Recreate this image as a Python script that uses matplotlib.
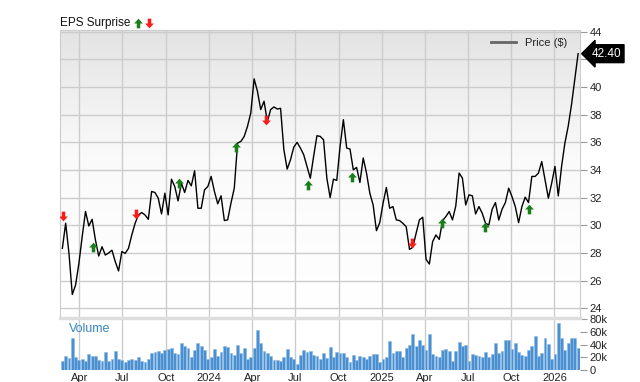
import numpy as np
import pandas as pd
import matplotlib
matplotlib.use('Agg')
import matplotlib.pyplot as plt
import matplotlib.dates as mdates
from matplotlib.path import Path
from matplotlib.lines import Line2D
from matplotlib.colors import LinearSegmentedColormap
from matplotlib.ticker import FuncFormatter

plt.rcParams['font.family'] = ['Liberation Sans', 'DejaVu Sans']

# weekly closing prices ($), Feb 2023 -> Feb 2026
prices = [
    28.33, 30.15, 27.97, 25.0, 25.68, 27.25, 29.18, 31.0, 29.95, 30.43,
    28.94, 27.78, 28.45, 27.85, 28.0, 28.2, 27.37, 26.7, 28.1, 27.97,
    28.33, 29.3, 30.14, 30.75, 30.92, 30.75, 30.43, 32.44, 32.37, 31.96,
    30.82, 32.32, 30.75,
    33.33, 32.8, 31.76, 33.04, 32.37, 33.24, 32.85, 33.94, 31.23, 31.23,
    32.56, 32.8, 33.53, 32.44, 31.55, 32.13, 30.34, 30.39, 31.6, 32.68,
    35.94, 36.06, 36.42, 37.15, 38.12, 40.58, 39.69, 38.36, 38.96, 37.5,
    38.36, 38.55,
    38.4, 38.45, 35.46, 34.06, 34.73, 35.65, 35.99, 35.58, 35.1, 34.25,
    33.4, 34.98, 36.47, 36.42, 36.18, 33.4, 32.0, 33.33, 33.24, 35.7,
    37.63, 35.58, 35.51, 34.01, 34.18, 33.09, 34.86, 33.77, 32.32, 31.47,
    29.61,
    30.19, 31.59, 32.73, 31.23, 31.35, 30.39, 30.34, 30.14, 29.9, 28.26,
    28.41, 29.42, 30.39, 30.58, 27.54, 27.2, 28.82, 29.3, 28.98, 30.34,
    30.63, 30.99, 30.39, 31.4, 33.77, 33.41, 31.47, 32.2, 32.13, 30.82,
    31.35, 30.87,
    30.14, 30.02, 31.16, 31.64, 30.38, 31.16, 31.64, 32.68, 32.07, 31.35,
    30.19, 31.35, 32.03, 31.64, 33.53, 33.53, 33.77, 34.6, 33.28, 31.96,
    33.04, 34.25, 32.12, 34.25, 35.94, 37.15, 38.71, 40.53, 42.40,
]

# weekly volume (thousands)
volume_k = [
    14, 22, 19, 51, 20, 16, 17, 14, 25, 22,
    22, 15, 14, 29, 14, 18, 30, 17, 16, 13,
    16, 18, 15, 20, 14, 13, 18, 27, 29, 30,
    26, 31, 33, 34, 27, 25, 42, 38, 34, 20,
    32, 43, 38, 32, 17, 21, 33, 22, 28, 38,
    36, 27, 24, 39, 27, 34, 17, 20, 34, 63,
    43, 30, 26, 22, 16, 16, 14, 21, 33, 20,
    17, 10, 24, 31, 29, 30, 24, 22, 17,
    27, 19, 36, 21, 29, 26, 26, 20, 13, 24,
    16, 22, 20, 17, 22, 25, 25, 12, 17, 20,
    46, 27, 30, 30, 20, 34, 39, 56, 38, 47,
    39, 31, 56, 25, 22, 21, 31, 33, 30, 14,
    30, 44, 38, 39, 14, 25, 24, 22, 21, 29,
    21, 25, 42, 27, 30, 47, 47, 33, 43, 29,
    24, 22, 31, 38, 54, 22, 26, 50, 41, 18,
    25, 73, 51, 31, 42, 51, 51, 34,
]

# EPS surprise markers: date, price level, beat (True) / miss (False)
eps_dates = ['2023-02-26', '2023-04-29', '2023-07-29', '2023-10-30',
             '2024-02-27', '2024-04-30', '2024-07-29', '2024-10-30',
             '2025-03-06', '2025-05-07', '2025-08-07', '2025-11-07']
eps_levels = [30.7, 28.4, 30.8, 33.04, 35.65, 37.63, 32.9, 33.48,
              28.7, 30.14, 29.86, 31.2]
eps_beat = [False, True, False, True, True, False, True, True,
            False, True, True, True]

price_ticks = list(range(24, 45, 2))
volume_ticks = [0, 20, 40, 60, 80]

dates = pd.date_range(end='2026-02-20', periods=len(prices), freq='7D')
eps_dates = pd.to_datetime(eps_dates)

up_arrow = Path([(-0.18, -0.5), (0.18, -0.5), (0.18, 0.0), (0.45, 0.0),
                 (0.0, 0.5), (-0.45, 0.0), (-0.18, 0.0), (-0.18, -0.5)],
                [Path.MOVETO] + [Path.LINETO] * 6 + [Path.CLOSEPOLY])
down_arrow = Path([(x, -y) for x, y in up_arrow.vertices], up_arrow.codes)

fig = plt.figure(figsize=(6.4, 3.82), dpi=100)
W, H = 640, 382
left, right = 60, 580
ax = fig.add_axes([left / W, 64 / H, (right - left) / W, 288 / H])
axv = fig.add_axes([left / W, 12 / H, (right - left) / W, 52 / H], sharex=ax)

grid_c = '#cccccc'

# background gradient for price panel
cmap = LinearSegmentedColormap.from_list('bg', ['#ffffff', '#fafafa', '#e3e3e3'])
grad = np.linspace(0, 1, 256).reshape(-1, 1) ** 1.2
ax.imshow(grad, aspect='auto', cmap=cmap, extent=[0, 1, 0, 1],
          transform=ax.transAxes, origin='lower', zorder=0)

ax.plot(dates, prices, color='black', lw=1.0, zorder=3)

for d, lvl, beat in zip(eps_dates, eps_levels, eps_beat):
    ax.plot([d], [lvl], marker=up_arrow if beat else down_arrow,
            color='#1a7f1a' if beat else '#ff1a1a', ms=7, mew=0, zorder=4)

xmin, xmax = pd.Timestamp('2023-02-19'), pd.Timestamp('2026-02-24')
ax.set_xlim(xmin, xmax)
ax.set_ylim(23.3, 44.11)

ax.yaxis.tick_right()
ax.set_yticks(price_ticks)
# the 42 label sits under the last-price box
ax.set_yticklabels(['' if t == 42 else str(t) for t in price_ticks])
ax.tick_params(axis='y', length=5, color='#999999', labelsize=8, pad=2,
               labelcolor='#222222')
ax.tick_params(axis='x', length=0, labelbottom=False)
ax.xaxis.set_major_locator(mdates.MonthLocator(bymonth=[1, 4, 7, 10]))
ax.grid(True, color=grid_c, lw=1, zorder=1)
for s in ax.spines.values():
    s.set_color(grid_c)

leg = ax.legend(handles=[Line2D([], [], color='#666666', lw=2, label='Price ($)')],
                loc='upper right', frameon=False, fontsize=8, handlelength=2.2,
                borderaxespad=0.3, bbox_to_anchor=(0.99, 1.0))
for t in leg.get_texts():
    t.set_color('#222222')

ax.text(1.022, prices[-1], f'{prices[-1]:.2f}', transform=ax.get_yaxis_transform(),
        ha='left', va='center', color='white', fontsize=8.5, zorder=6,
        bbox=dict(boxstyle='larrow,pad=0.25', fc='black', ec='black'), clip_on=False)

# volume panel
axv.bar(dates, volume_k, width=6, color='#4a8fd0', edgecolor='#8cbbe6',
        linewidth=0.4, zorder=3)
axv.set_ylim(0, 81.6)
axv.set_xlim(xmin, xmax)
axv.yaxis.tick_right()
axv.set_yticks(volume_ticks)
axv.yaxis.set_major_formatter(FuncFormatter(lambda v, p: '0' if v == 0 else f'{v:.0f}k'))
axv.tick_params(axis='y', length=5, color='#999999', labelsize=8, pad=2,
                labelcolor='#222222')
axv.xaxis.set_major_locator(mdates.MonthLocator(bymonth=[1, 4, 7, 10]))
axv.xaxis.set_major_formatter(FuncFormatter(
    lambda v, p: mdates.num2date(v).strftime('%Y') if mdates.num2date(v).month == 1
    else mdates.num2date(v).strftime('%b')))
axv.tick_params(axis='x', length=0, labelsize=8, pad=2, labelcolor='#222222')
axv.grid(True, axis='x', color=grid_c, lw=1, zorder=1)
for s in axv.spines.values():
    s.set_visible(False)
axv.spines['top'].set_visible(True)
axv.spines['top'].set_color('#dddddd')
axv.spines['top'].set_linewidth(2.5)
axv.text(0.017, 0.78, 'Volume', transform=axv.transAxes, color='#3a87c8',
         fontsize=9, va='center', zorder=5)

# title
fig.text(left / W, 1 - 23 / H, 'EPS Surprise', fontsize=8.5, va='center',
         ha='left', color='#111111')
fig.add_artist(Line2D([138 / W], [1 - 23 / H], marker=up_arrow, color='#1a7f1a',
                      ms=7, mew=0, transform=fig.transFigure))
fig.add_artist(Line2D([149 / W], [1 - 23 / H], marker=down_arrow, color='#ff1a1a',
                      ms=7, mew=0, transform=fig.transFigure))

fig.savefig('out.png', dpi=100)
